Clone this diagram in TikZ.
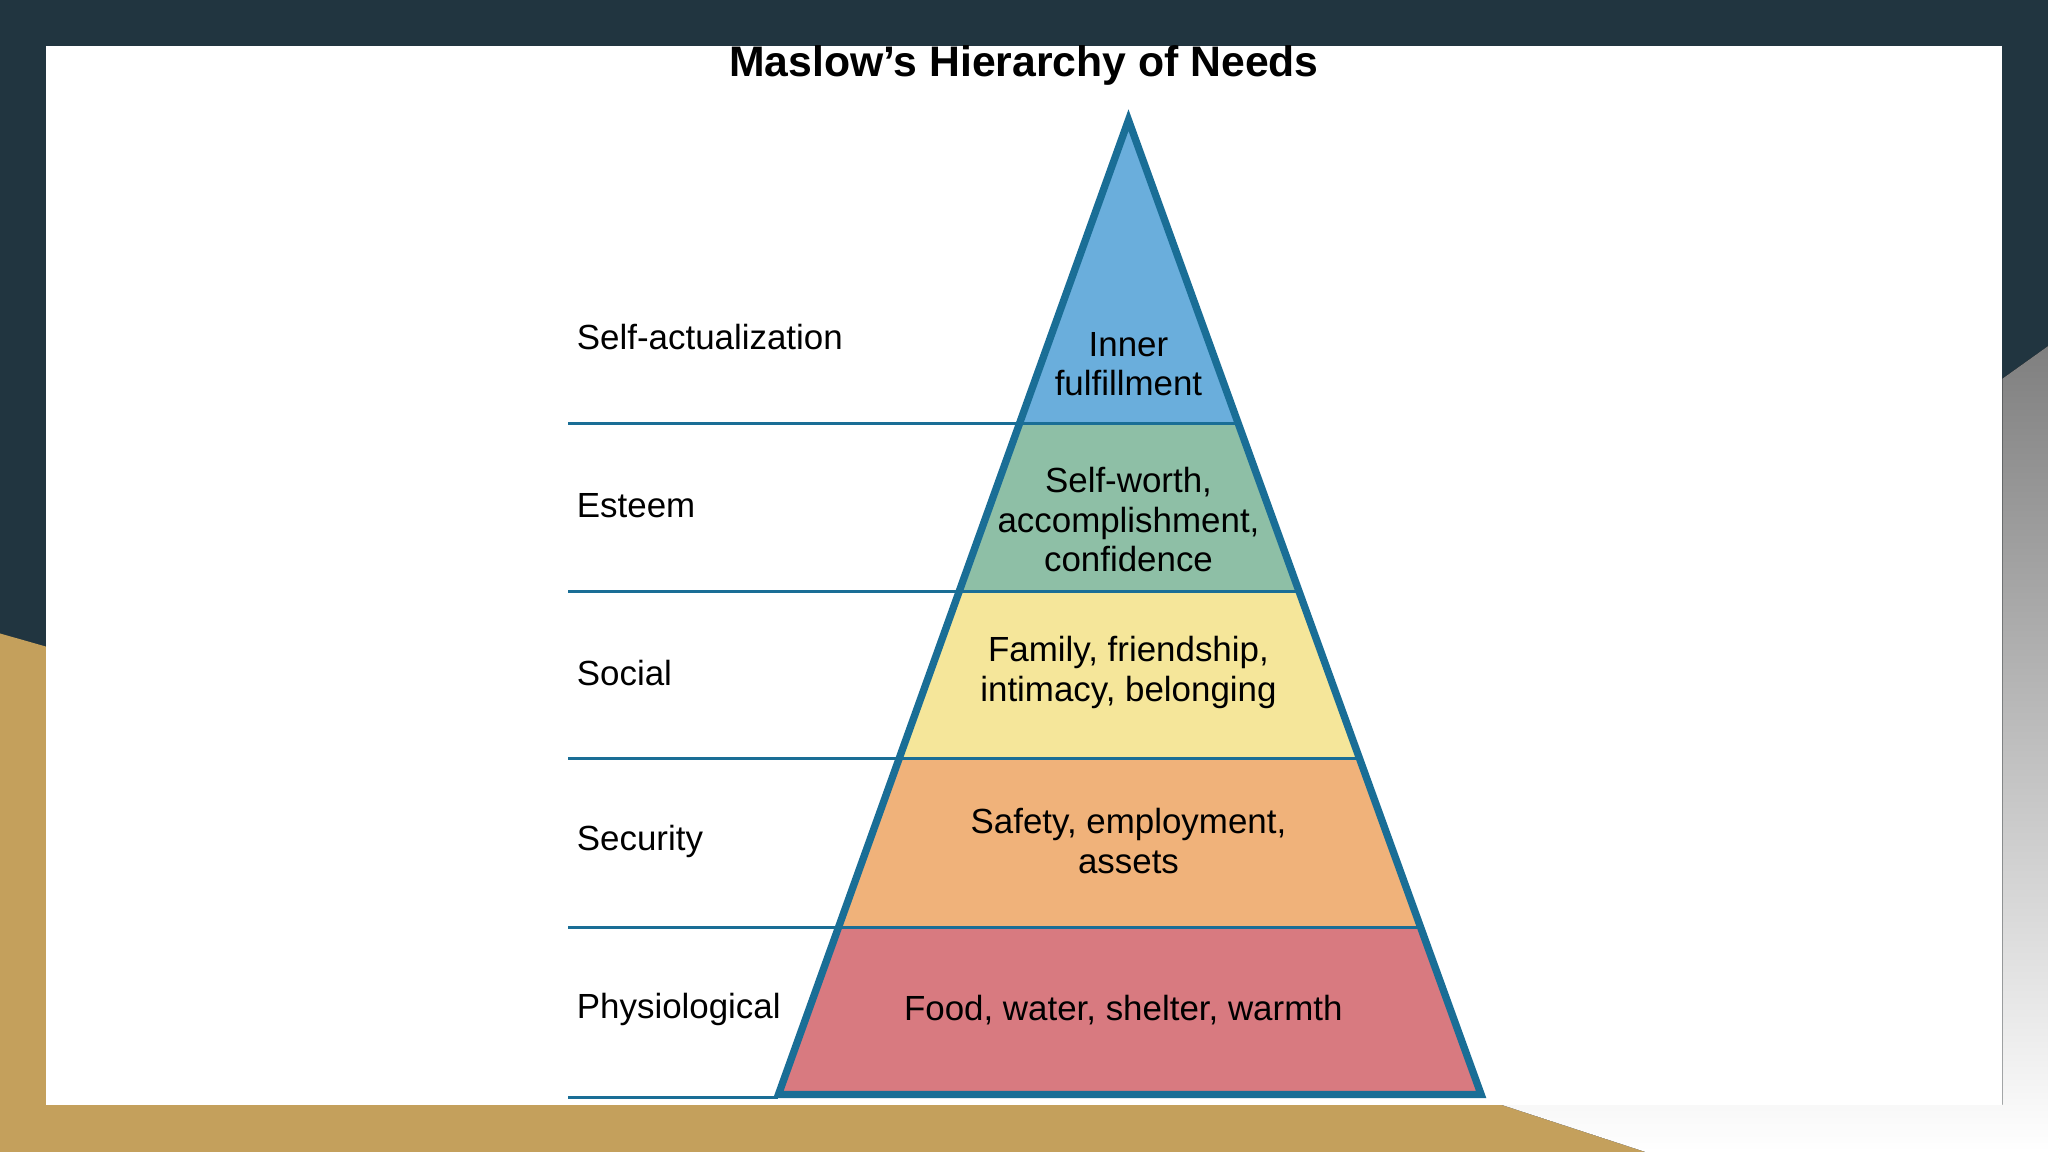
\documentclass[tikz,border=0pt]{standalone}
\usepackage{fontspec}
\setmainfont{Liberation Sans}
\definecolor{navy}{HTML}{213540}
\definecolor{gold}{HTML}{C4A05C}
\definecolor{shade}{HTML}{C9C9C9}
\definecolor{edge}{HTML}{1A6E96}
\definecolor{cblue}{HTML}{6AAEDC}
\definecolor{cteal}{HTML}{8EBFA6}
\definecolor{cyel}{HTML}{F5E69A}
\definecolor{cora}{HTML}{F0B27A}
\definecolor{cred}{HTML}{D87A80}
\tikzset{lab/.style={anchor=west,font=\fontsize{7.6pt}{8.6pt}\selectfont,inner sep=0pt},
 inlab/.style={align=center,font=\fontsize{7.6pt}{8.6pt}\selectfont,inner sep=0pt},
 sep/.style={edge,line width=0.7pt}}
\begin{document}
\begin{tikzpicture}[x=0.01cm,y=-0.01cm]
\useasboundingbox (0,0) rectangle (1568,882);
\fill[navy] (0,0) rectangle (1568,882);
\fill[gold] (0,485) -- (1390,882) -- (0,882) -- cycle;
\fill[shade] (1533,290) -- (1568,265) -- (1568,882) -- (1260,882) -- (1150,846) -- (1533,846) -- cycle;
\fill[white] (35,35) rectangle (1533,846);
\node[font=\fontsize{9.3pt}{11pt}\selectfont\bfseries] (title) at (784,50) {Maslow’s Hierarchy of Needs};
% bands
\fill[cblue] (864,92) -- (780.7,324) -- (947.3,324) -- cycle;
\fill[cteal] (780.7,324) -- (734.3,453) -- (993.7,453) -- (947.3,324) -- cycle;
\fill[cyel] (734.3,453) -- (688.3,581) -- (1039.7,581) -- (993.7,453) -- cycle;
\fill[cora] (688.3,581) -- (642,710) -- (1086,710) -- (1039.7,581) -- cycle;
\fill[cred] (642,710) -- (596,838) -- (1132,838) -- (1086,710) -- cycle;
\foreach \y/\x/\xr in {324/780.7/947.3,453/734.3/993.7,581/688.3/1039.7,710/642/1086}
  \draw[sep] (435,\y) -- (\xr,\y);
\draw[sep] (435,840) -- (596,840);
\draw[edge,line width=1.6pt,line join=miter] (864,92) -- (596,838) -- (1134,838) -- cycle;
\node[lab] (l1) at (441,258) {Self-actualization};
\node[lab] (l2) at (441,387) {Esteem};
\node[lab] (l3) at (441,515) {Social};
\node[lab] (l4) at (441,644) {Security};
\node[lab] (l5) at (441,773) {Physiological};
\node[inlab] (t1) at (864,279) {Inner\\fulfillment};
\node[inlab] (t2) at (864,398) {Self-worth,\\accomplishment,\\confidence};
\node[inlab] (t3) at (864,515) {Family, friendship,\\intimacy, belonging};
\node[inlab] (t4) at (864,644) {Safety, employment,\\assets};
\node[inlab] (t5) at (860,773) {Food, water, shelter, warmth};
\end{tikzpicture}
\end{document}
